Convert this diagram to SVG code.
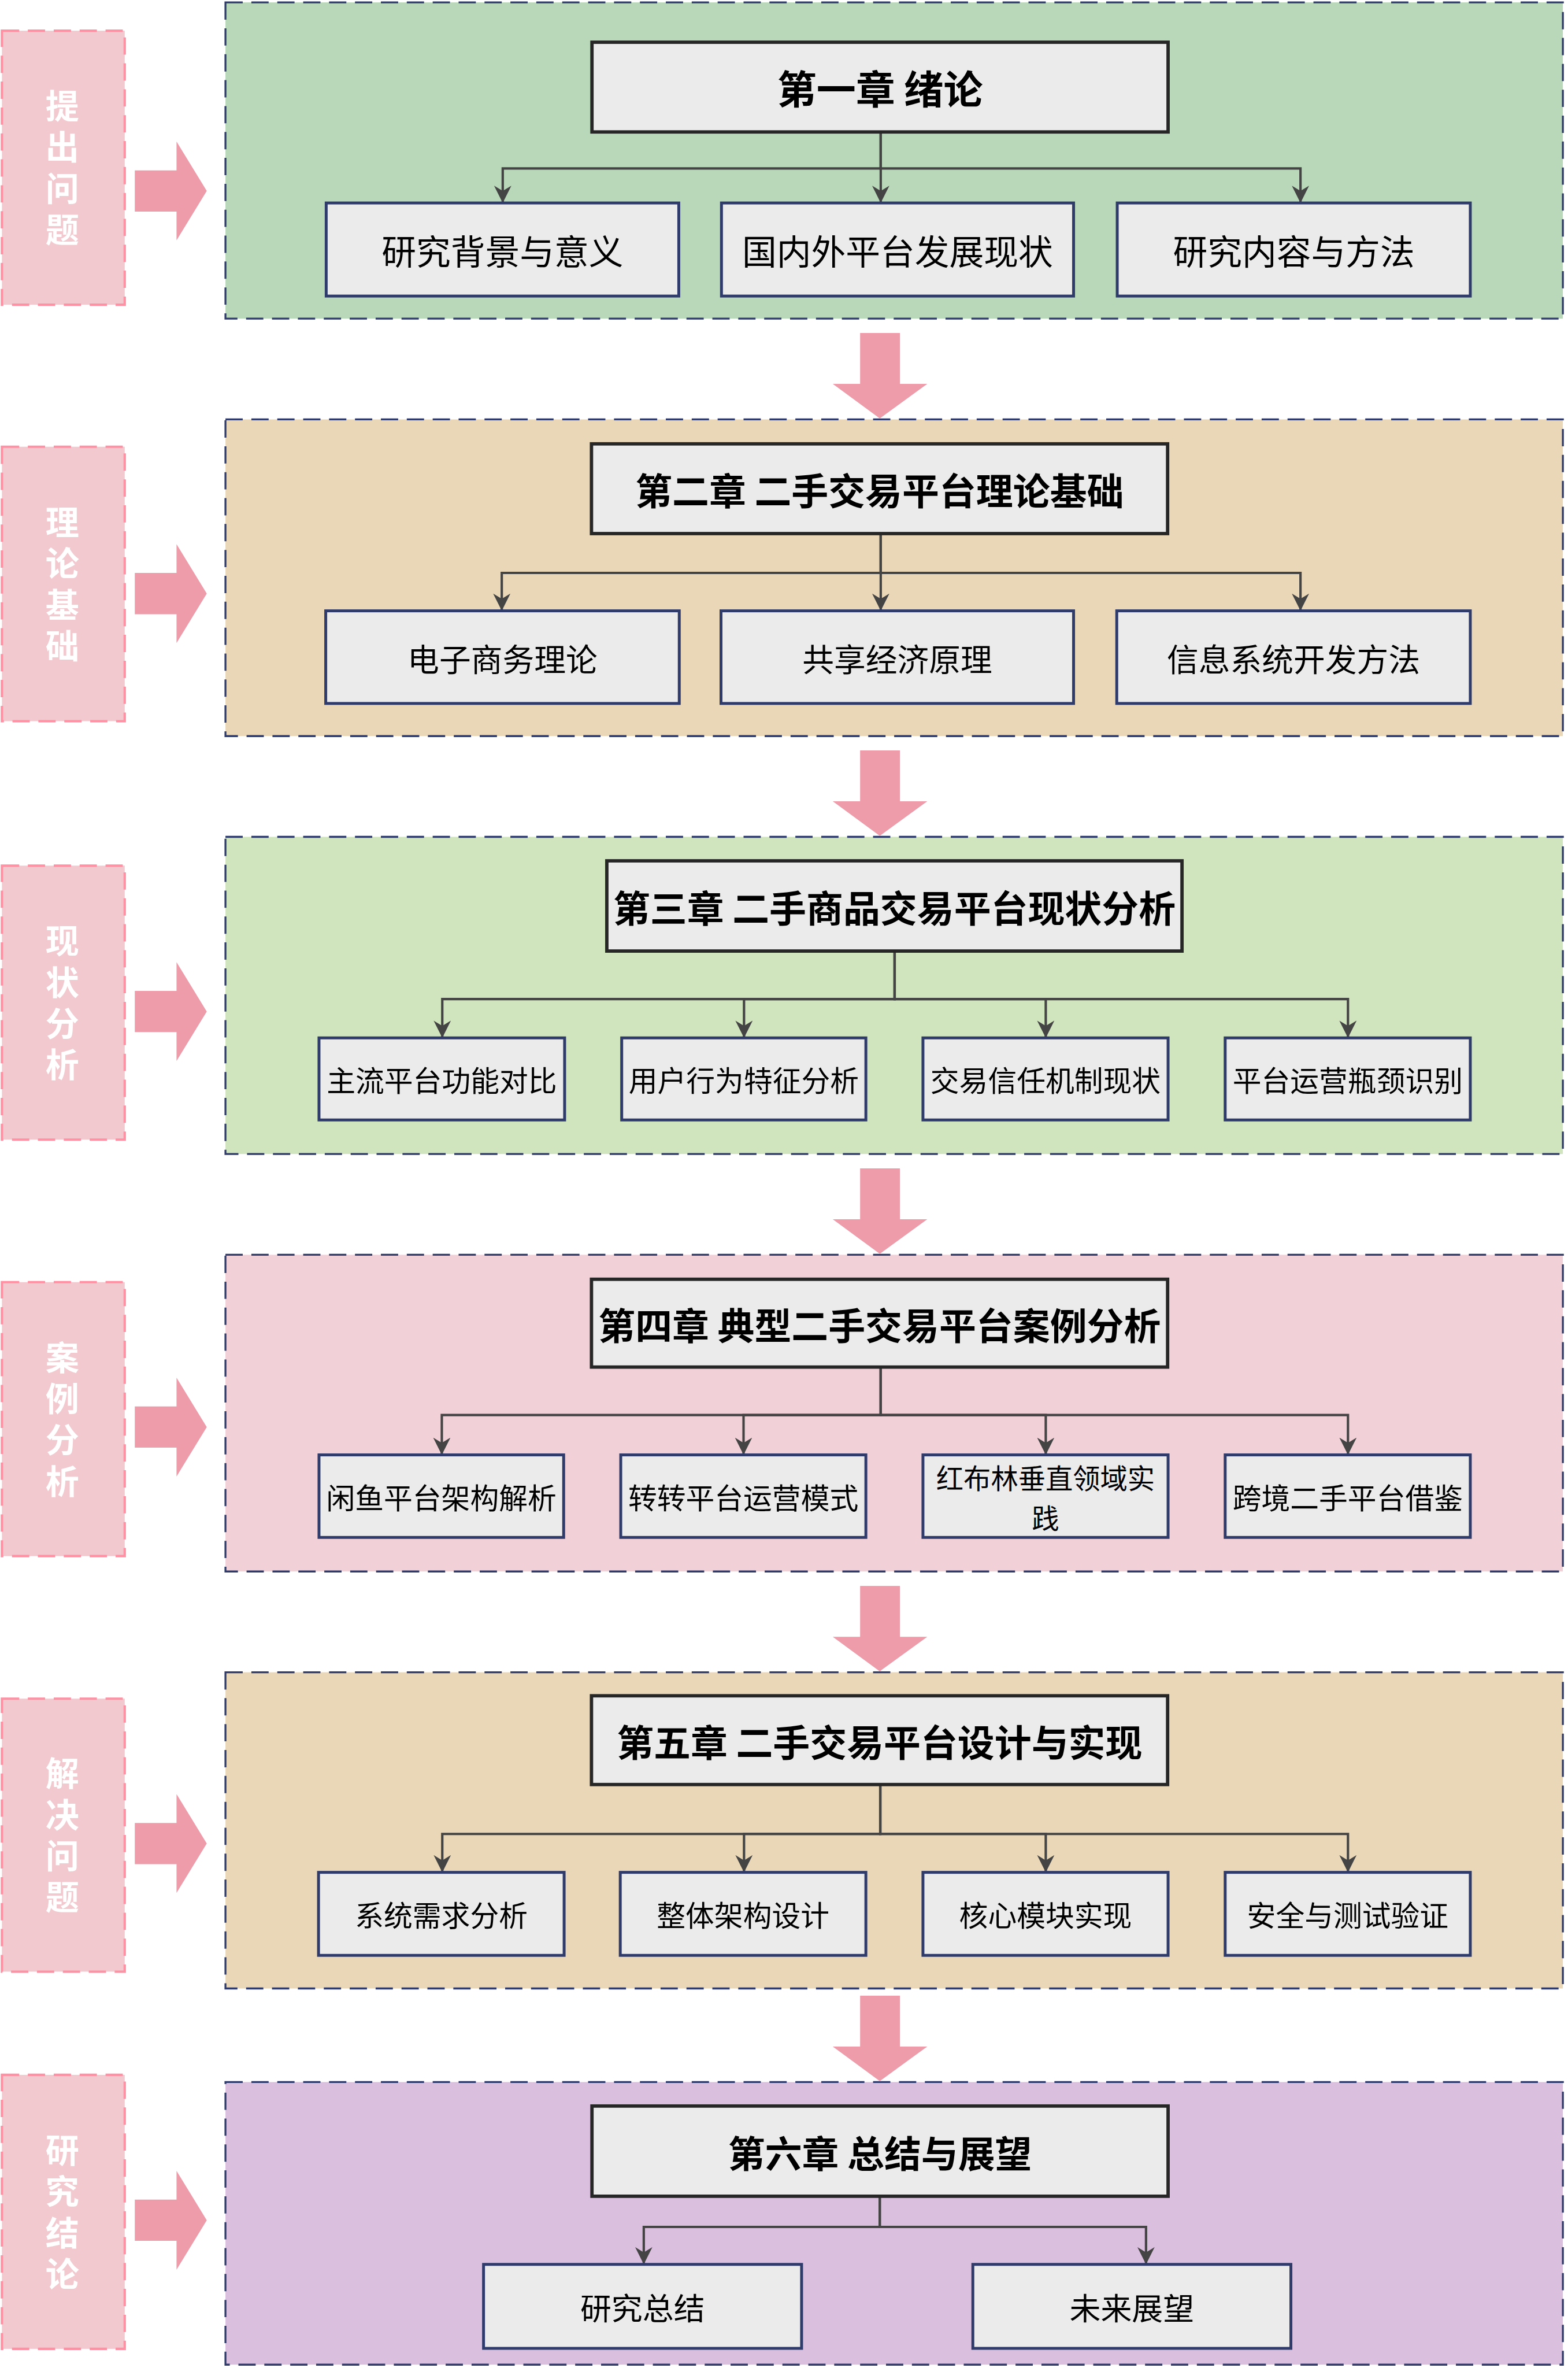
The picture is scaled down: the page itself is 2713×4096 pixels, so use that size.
<svg xmlns="http://www.w3.org/2000/svg" width="2713" height="4096" viewBox="0 0 2713 4096">
<defs>
<style>
.sec{stroke:#2f3b6b;stroke-width:4;stroke-dasharray:36 18}
.s1{fill:#b9d8b9}.s2{fill:#ead7b7}.s3{fill:#d0e4be}.s4{fill:#f2d0d8}.s6{fill:#dbbfdf}
.lab{fill:#f2c9cf;stroke:#ff91a4;stroke-width:5;stroke-dasharray:36 18}
.labt{fill:#ffffff;font-family:"Noto Sans CJK SC","Noto Sans",sans-serif;font-weight:700;font-size:70px;text-anchor:middle;writing-mode:vertical-rl;letter-spacing:16px}
.arr{fill:#ee9baa}
.ttl{fill:#ebebeb;stroke:#262626;stroke-width:7}
.ttlt{fill:#000;font-family:"Noto Sans CJK SC","Noto Sans",sans-serif;font-weight:700;font-size:77px;text-anchor:middle;dominant-baseline:central}
.kid{fill:#ebebeb;stroke:#2f3b6b;stroke-width:6}
.kidt{fill:#000;font-family:"Noto Sans CJK SC","Noto Sans",sans-serif;font-weight:400;font-size:60px;text-anchor:middle;dominant-baseline:central}
.con{fill:none;stroke:#444444;stroke-width:5;marker-end:url(#ah)}
</style>
<marker id="ah" markerUnits="userSpaceOnUse" viewBox="0 0 36 36" markerWidth="36" markerHeight="36" refX="36" refY="18" orient="auto">
<path d="M0,0 L36,18 L0,36 L11,18 Z" fill="#444444"/>
</marker>
</defs>
<rect x="0" y="0" width="2713" height="4096" fill="#ffffff"/>
<g transform="scale(0.83)">

<g id="sections">
<rect class="sec s1" x="470" y="5" width="2788" height="659"/>
<rect class="sec s2" x="470" y="874" width="2788" height="660"/>
<rect class="sec s3" x="470" y="1744" width="2788" height="661"/>
<rect class="sec s4" x="470" y="2615" width="2788" height="660"/>
<rect class="sec s2" x="470" y="3485" width="2788" height="659"/>
<rect class="sec s6" x="470" y="4339" width="2788" height="589"/>
</g>

<g id="stage-labels">
<g id="label-1"><rect class="lab" x="4" y="64" width="256" height="571"/><text class="labt" x="130" y="357.5">提出问题</text></g>
<g id="label-2"><rect class="lab" x="4" y="931" width="256" height="572"/><text class="labt" x="130" y="1225">理论基础</text></g>
<g id="label-3"><rect class="lab" x="4" y="1804" width="256" height="571"/><text class="labt" x="130" y="2097.5">现状分析</text></g>
<g id="label-4"><rect class="lab" x="4" y="2672" width="256" height="571"/><text class="labt" x="130" y="2965.5">案例分析</text></g>
<g id="label-5"><rect class="lab" x="4" y="3540" width="256" height="569"/><text class="labt" x="130" y="3832.5">解决问题</text></g>
<g id="label-6"><rect class="lab" x="4" y="4324" width="256" height="571"/><text class="labt" x="130" y="4617.5">研究结论</text></g>
</g>

<g id="flow-arrows">
<polygon class="arr" points="281,355 368,355 368,295 431,398 368,501 368,441 281,441"/>
<polygon class="arr" points="281,1194 368,1194 368,1134 431,1237 368,1340 368,1280 281,1280"/>
<polygon class="arr" points="281,2065 368,2065 368,2005 431,2108 368,2211 368,2151 281,2151"/>
<polygon class="arr" points="281,2931 368,2931 368,2871 431,2974 368,3077 368,3017 281,3017"/>
<polygon class="arr" points="281,3799 368,3799 368,3739 431,3842 368,3945 368,3885 281,3885"/>
<polygon class="arr" points="281,4584 368,4584 368,4524 431,4627 368,4730 368,4670 281,4670"/>
<polygon class="arr" points="1793,694 1876,694 1876,800 1933,800 1834,872 1736,800 1793,800"/>
<polygon class="arr" points="1793,1564 1876,1564 1876,1670 1933,1670 1834,1742 1736,1670 1793,1670"/>
<polygon class="arr" points="1793,2435 1876,2435 1876,2541 1933,2541 1834,2613 1736,2541 1793,2541"/>
<polygon class="arr" points="1793,3305 1876,3305 1876,3411 1933,3411 1834,3483 1736,3411 1793,3411"/>
<polygon class="arr" points="1793,4159 1876,4159 1876,4265 1933,4265 1834,4337 1736,4265 1793,4265"/>
</g>

<g id="connectors">
<path class="con" d="M1836,275 V351 H1048 V423"/>
<path class="con" d="M1836,275 V423"/>
<path class="con" d="M1836,275 V351 H2711 V423"/>
<path class="con" d="M1836,1112 V1194 H1046 V1273"/>
<path class="con" d="M1836,1112 V1273"/>
<path class="con" d="M1836,1112 V1194 H2711 V1273"/>
<path class="con" d="M1865,1982 V2082 H922 V2163"/>
<path class="con" d="M1865,1982 V2082 H1551 V2163"/>
<path class="con" d="M1865,1982 V2082 H2180 V2163"/>
<path class="con" d="M1865,1982 V2082 H2810 V2163"/>
<path class="con" d="M1836,2849 V2949 H921 V3032"/>
<path class="con" d="M1836,2849 V2949 H1550 V3032"/>
<path class="con" d="M1836,2849 V2949 H2180 V3032"/>
<path class="con" d="M1836,2849 V2949 H2810 V3032"/>
<path class="con" d="M1835,3719 V3822 H922 V3902"/>
<path class="con" d="M1835,3719 V3822 H1551 V3902"/>
<path class="con" d="M1835,3719 V3822 H2180 V3902"/>
<path class="con" d="M1835,3719 V3822 H2810 V3902"/>
<path class="con" d="M1834,4577 V4641 H1342 V4719"/>
<path class="con" d="M1834,4577 V4641 H2389 V4719"/>
</g>

<g id="chapter-1">
<g id="c1-title"><rect class="ttl" x="1234" y="88" width="1201" height="187"/><text class="ttlt" x="1834.5" y="181.5" style="font-size:82px">第一章 绪论</text></g>
<g id="c1-k1"><rect class="kid" x="680" y="423" width="735" height="194"/><text class="kidt" x="1047.5" y="520" style="font-size:72px">研究背景与意义</text></g>
<g id="c1-k2"><rect class="kid" x="1504" y="423" width="734" height="194"/><text class="kidt" x="1871" y="520" style="font-size:72px">国内外平台发展现状</text></g>
<g id="c1-k3"><rect class="kid" x="2329" y="423" width="736" height="194"/><text class="kidt" x="2697" y="520" style="font-size:72px">研究内容与方法</text></g>
</g>

<g id="chapter-2">
<g id="c2-title"><rect class="ttl" x="1233" y="925" width="1201" height="187"/><text class="ttlt" x="1833.5" y="1018.5">第二章 二手交易平台理论基础</text></g>
<g id="c2-k1"><rect class="kid" x="679" y="1273" width="737" height="193"/><text class="kidt" x="1047.5" y="1369.5" style="font-size:66px">电子商务理论</text></g>
<g id="c2-k2"><rect class="kid" x="1503" y="1273" width="735" height="193"/><text class="kidt" x="1870.5" y="1369.5" style="font-size:66px">共享经济原理</text></g>
<g id="c2-k3"><rect class="kid" x="2328" y="1273" width="737" height="193"/><text class="kidt" x="2696.5" y="1369.5" style="font-size:66px">信息系统开发方法</text></g>
</g>

<g id="chapter-3">
<g id="c3-title"><rect class="ttl" x="1265" y="1794" width="1199" height="188"/><text class="ttlt" x="1864.5" y="1888">第三章 二手商品交易平台现状分析</text></g>
<g id="c3-k1"><rect class="kid" x="665" y="2163" width="512" height="171"/><text class="kidt" x="921" y="2248.5">主流平台功能对比</text></g>
<g id="c3-k2"><rect class="kid" x="1296" y="2163" width="509" height="171"/><text class="kidt" x="1550.5" y="2248.5">用户行为特征分析</text></g>
<g id="c3-k3"><rect class="kid" x="1924" y="2163" width="511" height="171"/><text class="kidt" x="2179.5" y="2248.5">交易信任机制现状</text></g>
<g id="c3-k4"><rect class="kid" x="2554" y="2163" width="511" height="171"/><text class="kidt" x="2809.5" y="2248.5">平台运营瓶颈识别</text></g>
</g>

<g id="chapter-4">
<g id="c4-title"><rect class="ttl" x="1233" y="2666" width="1201" height="183"/><text class="ttlt" x="1833.5" y="2757.5">第四章 典型二手交易平台案例分析</text></g>
<g id="c4-k1"><rect class="kid" x="665" y="3032" width="510" height="172"/><text class="kidt" x="920" y="3118">闲鱼平台架构解析</text></g>
<g id="c4-k2"><rect class="kid" x="1294" y="3032" width="511" height="172"/><text class="kidt" x="1549.5" y="3118">转转平台运营模式</text></g>
<g id="c4-k3"><rect class="kid" x="1924" y="3032" width="511" height="172"/><text class="kidt" x="2179.5" style="font-size:57px"><tspan x="2179.5" y="3077">红布林垂直领域实</tspan><tspan x="2179.5" y="3160">践</tspan></text></g>
<g id="c4-k4"><rect class="kid" x="2554" y="3032" width="511" height="172"/><text class="kidt" x="2809.5" y="3118">跨境二手平台借鉴</text></g>
</g>

<g id="chapter-5">
<g id="c5-title"><rect class="ttl" x="1233" y="3534" width="1201" height="185"/><text class="ttlt" x="1833.5" y="3626.5">第五章 二手交易平台设计与实现</text></g>
<g id="c5-k1"><rect class="kid" x="664" y="3902" width="512" height="173"/><text class="kidt" x="920" y="3988.5">系统需求分析</text></g>
<g id="c5-k2"><rect class="kid" x="1293" y="3902" width="512" height="173"/><text class="kidt" x="1549" y="3988.5">整体架构设计</text></g>
<g id="c5-k3"><rect class="kid" x="1924" y="3902" width="511" height="173"/><text class="kidt" x="2179.5" y="3988.5">核心模块实现</text></g>
<g id="c5-k4"><rect class="kid" x="2554" y="3902" width="511" height="173"/><text class="kidt" x="2809.5" y="3988.5">安全与测试验证</text></g>
</g>

<g id="chapter-6">
<g id="c6-title"><rect class="ttl" x="1234" y="4389" width="1201" height="188"/><text class="ttlt" x="1834.5" y="4483">第六章 总结与展望</text></g>
<g id="c6-k1"><rect class="kid" x="1008" y="4719" width="663" height="175"/><text class="kidt" x="1339.5" y="4806.5" style="font-size:65px">研究总结</text></g>
<g id="c6-k2"><rect class="kid" x="2028" y="4719" width="663" height="175"/><text class="kidt" x="2359.5" y="4806.5" style="font-size:65px">未来展望</text></g>
</g>

</g>
</svg>
